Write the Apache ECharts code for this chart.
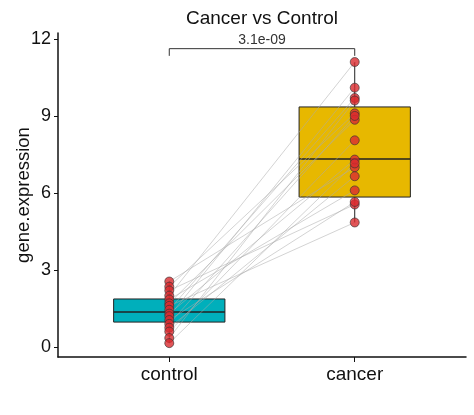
<!DOCTYPE html>
<html>
<head>
<meta charset="utf-8">
<script src="https://cdn.jsdelivr.net/npm/echarts@6/dist/echarts.min.js"></script>
<style>
  html, body { margin: 0; padding: 0; background: #fff; }
  #container { width: 474px; height: 415px; }
</style>
</head>
<body>
<div id="container"></div>
<script>
const FONT = 'Liberation Sans, Arial, sans-serif';

// groups on the x axis (positions 1 and 2)
const categories = ['control', 'cancer'];
const groupColors = ['#00AFBB', '#E7B800'];

// paired samples: controlValues[i] is joined to cancerValues[i]
const controlValues = [2.55, 2.35, 2.2, 2.0, 1.85, 1.7, 1.6, 1.45, 1.3, 1.2, 1.05, 0.9, 0.75, 0.6, 0.35, 0.15];
const cancerValues = [7.0, 9.1, 5.55, 11.1, 6.1, 8.85, 4.85, 9.7, 7.3, 10.1, 5.65, 9.0, 6.65, 8.05, 9.6, 7.15];

// box stats: [low whisker, Q1, median, Q3, high whisker]
const controlBox = [0.15, 0.97, 1.36, 1.87, 2.55];
const cancerBox = [4.85, 5.84, 7.32, 9.35, 11.1];

const yTicks = [0, 3, 6, 9, 12];
const pLabel = '3.1e-09';
const bracketY = 11.62;

let dom = document.getElementById('container');
let myChart = echarts.init(dom);

let boxData = [
    [1].concat(controlBox),
    [2].concat(cancerBox)
];
let pairData = controlValues.map(function (v, i) {
    return [v, cancerValues[i]];
});
let pointData = [];
controlValues.forEach(function (v) { pointData.push([1, v]); });
cancerValues.forEach(function (v) { pointData.push([2, v]); });

function renderBox(params, api) {
    let x = api.value(0);
    let lo = api.coord([x, api.value(1)]);
    let q1 = api.coord([x, api.value(2)]);
    let md = api.coord([x, api.value(3)]);
    let q3 = api.coord([x, api.value(4)]);
    let hi = api.coord([x, api.value(5)]);
    let left = api.coord([x - 0.3, 0])[0];
    let right = api.coord([x + 0.3, 0])[0];
    let stroke = { stroke: '#222', lineWidth: 1 };
    return {
        type: 'group',
        children: [
            { type: 'line', shape: { x1: hi[0], y1: hi[1], x2: q3[0], y2: q3[1] }, style: stroke },
            { type: 'line', shape: { x1: q1[0], y1: q1[1], x2: lo[0], y2: lo[1] }, style: stroke },
            {
                type: 'rect',
                shape: { x: left, y: q3[1], width: right - left, height: q1[1] - q3[1] },
                style: { fill: groupColors[params.dataIndex], stroke: '#222', lineWidth: 1 }
            },
            { type: 'line', shape: { x1: left, y1: md[1], x2: right, y2: md[1] }, style: { stroke: '#222', lineWidth: 1.6 } }
        ]
    };
}

function renderPair(params, api) {
    let a = api.coord([1, api.value(0)]);
    let b = api.coord([2, api.value(1)]);
    return {
        type: 'line',
        shape: { x1: a[0], y1: a[1], x2: b[0], y2: b[1] },
        style: { stroke: 'rgba(170,170,170,0.75)', lineWidth: 0.7 }
    };
}

function renderBracket(params, api) {
    let a = api.coord([1, bracketY]);
    let b = api.coord([2, bracketY]);
    let drop = api.coord([1, bracketY - 0.28])[1];
    return {
        type: 'group',
        children: [
            {
                type: 'polyline',
                shape: { points: [[a[0], drop], [a[0], a[1]], [b[0], b[1]], [b[0], drop]] },
                style: { stroke: '#333', lineWidth: 1, fill: null }
            },
            {
                type: 'text',
                x: (a[0] + b[0]) / 2,
                y: a[1] - 2,
                style: {
                    text: pLabel, fill: '#333', font: '14px ' + FONT,
                    textAlign: 'center', textVerticalAlign: 'bottom'
                }
            }
        ]
    };
}

option = {
    backgroundColor: '#fff',
    animation: false,
    title: {
        text: 'Cancer vs Control',
        left: 262,
        top: 9,
        padding: 0,
        textAlign: 'center',
        textStyle: { fontFamily: FONT, fontSize: 19, fontWeight: 'normal', color: '#111' }
    },
    grid: { left: 58, right: 8, top: 33, bottom: 58, outerBoundsMode: 'none', containLabel: false },
    xAxis: {
        type: 'value',
        min: 0.4,
        max: 2.6,
        splitLine: { show: false },
        axisLine: { onZero: false, lineStyle: { color: '#111', width: 1.5 } },
        axisTick: { customValues: [1, 2], length: 5, lineStyle: { color: '#111', width: 1 } },
        axisLabel: {
            customValues: [1, 2],
            margin: 8,
            fontFamily: FONT,
            fontSize: 19,
            color: '#111',
            formatter: function (v) { return categories[Math.round(v) - 1] || ''; }
        }
    },
    yAxis: {
        type: 'value',
        min: -0.39,
        max: 12.23,
        name: 'gene.expression',
        nameLocation: 'middle',
        nameGap: 25,
        nameMoveOverlap: false,
        nameRotate: 90,
        nameTextStyle: { fontFamily: FONT, fontSize: 18.5, color: '#111' },
        splitLine: { show: false },
        axisLine: { show: true, onZero: false, lineStyle: { color: '#111', width: 1.5 } },
        axisTick: { show: true, customValues: yTicks, length: 4, lineStyle: { color: '#111', width: 1 } },
        axisLabel: {
            customValues: yTicks,
            margin: 7,
            fontFamily: FONT,
            fontSize: 18,
            color: '#111'
        }
    },
    series: [
        {
            type: 'custom',
            name: 'box',
            renderItem: renderBox,
            data: boxData,
            encode: { x: 0, y: [1, 2, 3, 4, 5] },
            z: 1
        },
        {
            type: 'custom',
            name: 'pairs',
            renderItem: renderPair,
            data: pairData,
            encode: { y: [0, 1] },
            z: 2
        },
        {
            type: 'scatter',
            name: 'points',
            data: pointData,
            symbolSize: 9,
            itemStyle: { color: '#DA2A2E', borderColor: '#333', borderWidth: 0.8 },
            z: 3
        },
        {
            type: 'custom',
            name: 'bracket',
            renderItem: renderBracket,
            data: [[1.5, bracketY]],
            encode: { x: 0, y: 1 },
            z: 4
        }
    ]
};

myChart.setOption(option, true);
window.addEventListener('resize', function () {
    myChart.resize();
});
</script>
</body>
</html>
